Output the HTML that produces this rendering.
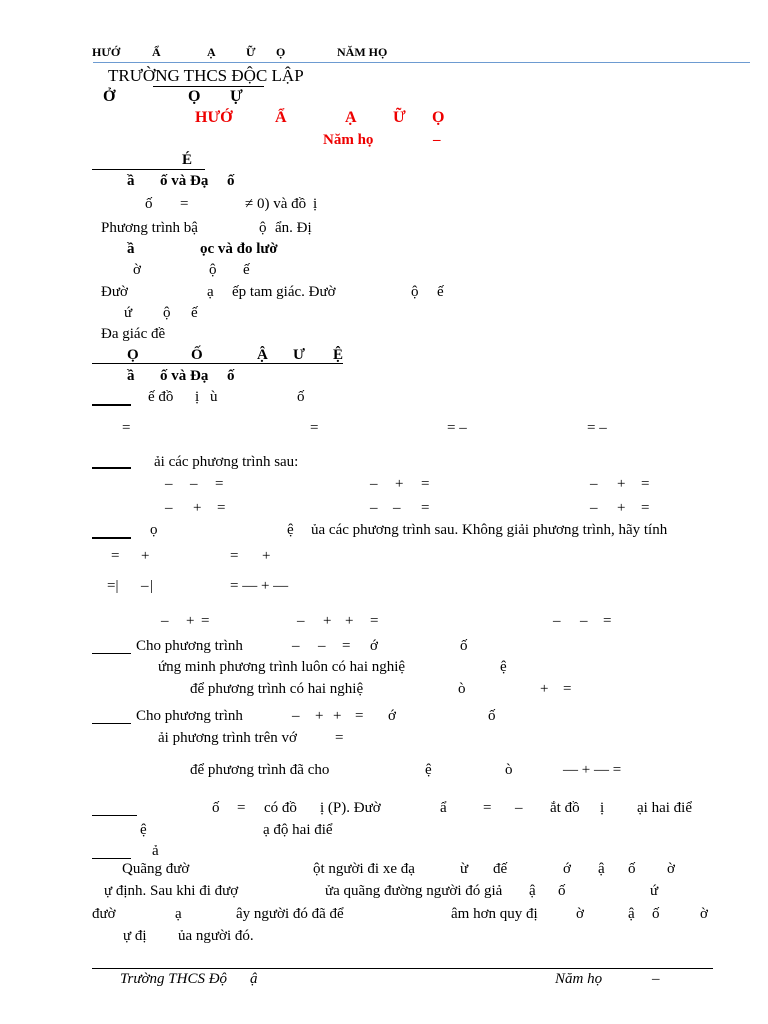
<!DOCTYPE html>
<html><head><meta charset="utf-8">
<style>
html,body{margin:0;padding:0;background:#fff}
body{width:768px;height:1024px;position:relative;overflow:hidden;font-family:"Liberation Serif","Noto Serif CJK SC",serif;font-size:15px;color:#000}
span{position:absolute;white-space:pre;line-height:18px}
.b{font-weight:bold}
.r{color:#e00;font-weight:bold}
.h{font-size:12px;font-weight:bold}
.i{font-style:italic}
.ln{position:absolute;height:1px;background:#000}
</style></head><body>
<span class="h" style="left:92px;top:43px">HƯỚ</span><span class="h" style="left:152px;top:43px">Ẩ</span><span class="h" style="left:207px;top:43px">Ạ</span><span class="h" style="left:246px;top:43px">Ữ</span><span class="h" style="left:276px;top:43px">Ọ</span><span class="h" style="left:337px;top:43px">NĂM HỌ</span>
<div class="ln" style="left:93px;top:62px;width:657px;background:#6d9bd1"></div>
<span style="left:108px;top:67px;font-size:17px">TRƯỜNG THCS ĐỘC LẬP</span>
<div class="ln" style="left:153px;top:86px;width:111px"></div>
<span class="b" style="left:103px;top:88px;font-size:16px">Ở</span><span class="b" style="left:188px;top:88px;font-size:16px">Ọ</span><span class="b" style="left:230px;top:88px;font-size:16px">Ự</span>
<span class="r" style="left:195px;top:109px;font-size:16px">HƯỚ</span><span class="r" style="left:275px;top:109px;font-size:16px">Ẩ</span><span class="r" style="left:345px;top:109px;font-size:16px">Ạ</span><span class="r" style="left:393px;top:109px;font-size:16px">Ữ</span><span class="r" style="left:432px;top:109px;font-size:16px">Ọ</span>
<span class="r" style="left:323px;top:131px">Năm họ</span><span class="r" style="left:433px;top:131px">–</span>
<span class="b" style="left:182px;top:151px">É</span>
<div class="ln" style="left:92px;top:169px;width:113px"></div>
<span class="b" style="left:127px;top:172px">ầ</span><span class="b" style="left:160px;top:172px">ố và Đạ</span><span class="b" style="left:227px;top:172px">ố</span>
<span style="left:145px;top:195px">ố</span><span style="left:180px;top:195px">=</span><span style="left:245px;top:195px">≠ 0) và đồ</span><span style="left:313px;top:195px">ị</span>
<span style="left:101px;top:219px">Phương trình bậ</span><span style="left:259px;top:219px">ộ</span><span style="left:275px;top:219px">ẩn. Đị</span>
<span class="b" style="left:127px;top:240px">ầ</span><span class="b" style="left:200px;top:240px">ọc và đo lườ</span>
<span style="left:133px;top:261px">ờ</span><span style="left:209px;top:261px">ộ</span><span style="left:243px;top:261px">ế</span>
<span style="left:101px;top:283px">Đườ</span><span style="left:207px;top:283px">ạ</span><span style="left:232px;top:283px">ếp tam giác. Đườ</span><span style="left:411px;top:283px">ộ</span><span style="left:437px;top:283px">ế</span>
<span style="left:124px;top:304px">ứ</span><span style="left:163px;top:304px">ộ</span><span style="left:191px;top:304px">ế</span>
<span style="left:101px;top:325px">Đa giác đề</span>
<span class="b" style="left:127px;top:346px">Ọ</span><span class="b" style="left:191px;top:346px">Ố</span><span class="b" style="left:257px;top:346px">Ậ</span><span class="b" style="left:293px;top:346px">Ư</span><span class="b" style="left:333px;top:346px">Ệ</span>
<div class="ln" style="left:92px;top:363px;width:251px"></div>
<span class="b" style="left:127px;top:367px">ầ</span><span class="b" style="left:160px;top:367px">ố và Đạ</span><span class="b" style="left:227px;top:367px">ố</span>
<div class="ln" style="left:92px;top:404px;width:39px;height:2px"></div>
<span style="left:148px;top:388px">ế đồ</span><span style="left:195px;top:388px">ị</span><span style="left:210px;top:388px">ù</span><span style="left:297px;top:388px">ố</span>
<span style="left:122px;top:419px">=</span><span style="left:310px;top:419px">=</span><span style="left:447px;top:419px">= –</span><span style="left:587px;top:419px">= –</span>
<div class="ln" style="left:92px;top:467px;width:39px;height:2px"></div>
<span style="left:154px;top:453px">ải các phương trình sau:</span>
<span style="left:165px;top:475px">–</span><span style="left:190px;top:475px">–</span><span style="left:215px;top:475px">=</span><span style="left:370px;top:475px">–</span><span style="left:395px;top:475px">+</span><span style="left:421px;top:475px">=</span><span style="left:590px;top:475px">–</span><span style="left:617px;top:475px">+</span><span style="left:641px;top:475px">=</span>
<span style="left:165px;top:499px">–</span><span style="left:193px;top:499px">+</span><span style="left:217px;top:499px">=</span><span style="left:370px;top:499px">–</span><span style="left:393px;top:499px">–</span><span style="left:421px;top:499px">=</span><span style="left:590px;top:499px">–</span><span style="left:617px;top:499px">+</span><span style="left:641px;top:499px">=</span>
<div class="ln" style="left:92px;top:537px;width:39px;height:2px"></div>
<span style="left:150px;top:521px">ọ</span><span style="left:287px;top:521px">ệ</span><span style="left:311px;top:521px">ủa các phương trình sau. Không giải phương trình, hãy tính</span>
<span style="left:111px;top:547px">=</span><span style="left:141px;top:547px">+</span><span style="left:230px;top:547px">=</span><span style="left:262px;top:547px">+</span>
<span style="left:107px;top:577px">=|</span><span style="left:141px;top:577px">–</span><span style="left:150px;top:577px">|</span><span style="left:230px;top:577px">= — + —</span>
<span style="left:161px;top:612px">–</span><span style="left:186px;top:612px">+</span><span style="left:201px;top:612px">=</span><span style="left:297px;top:612px">–</span><span style="left:323px;top:612px">+</span><span style="left:345px;top:612px">+</span><span style="left:370px;top:612px">=</span><span style="left:553px;top:612px">–</span><span style="left:580px;top:612px">–</span><span style="left:603px;top:612px">=</span>
<div class="ln" style="left:92px;top:653px;width:39px"></div>
<span style="left:136px;top:637px">Cho phương trình</span><span style="left:292px;top:637px">–</span><span style="left:318px;top:637px">–</span><span style="left:342px;top:637px">=</span><span style="left:370px;top:637px">ớ</span><span style="left:460px;top:637px">ố</span>
<span style="left:158px;top:658px">ứng minh phương trình luôn có hai nghiệ</span><span style="left:500px;top:658px">ệ</span>
<span style="left:190px;top:680px">để phương trình có hai nghiệ</span><span style="left:458px;top:680px">ò</span><span style="left:540px;top:680px">+</span><span style="left:563px;top:680px">=</span>
<div class="ln" style="left:92px;top:723px;width:39px"></div>
<span style="left:136px;top:707px">Cho phương trình</span><span style="left:292px;top:707px">–</span><span style="left:315px;top:707px">+</span><span style="left:333px;top:707px">+</span><span style="left:355px;top:707px">=</span><span style="left:388px;top:707px">ớ</span><span style="left:488px;top:707px">ố</span>
<span style="left:158px;top:729px">ải phương trình trên vớ</span><span style="left:335px;top:729px">=</span>
<span style="left:190px;top:761px">để phương trình đã cho</span><span style="left:425px;top:761px">ệ</span><span style="left:505px;top:761px">ò</span><span style="left:563px;top:761px">— + — =</span>
<div class="ln" style="left:92px;top:815px;width:45px"></div>
<span style="left:212px;top:799px">ố</span><span style="left:237px;top:799px">=</span><span style="left:264px;top:799px">có đồ</span><span style="left:320px;top:799px">ị (P). Đườ</span><span style="left:440px;top:799px">ẩ</span><span style="left:483px;top:799px">=</span><span style="left:515px;top:799px">–</span><span style="left:550px;top:799px">ắt đồ</span><span style="left:600px;top:799px">ị</span><span style="left:637px;top:799px">ại hai điể</span>
<span style="left:140px;top:821px">ệ</span><span style="left:263px;top:821px">ạ độ hai điể</span>
<div class="ln" style="left:92px;top:858px;width:39px"></div>
<span style="left:152px;top:842px">ả</span>
<span style="left:122px;top:860px">Quãng đườ</span><span style="left:313px;top:860px">ột người đi xe đạ</span><span style="left:460px;top:860px">ừ</span><span style="left:493px;top:860px">đế</span><span style="left:563px;top:860px">ớ</span><span style="left:598px;top:860px">ậ</span><span style="left:628px;top:860px">ố</span><span style="left:667px;top:860px">ờ</span>
<span style="left:104px;top:882px">ự định. Sau khi đi đượ</span><span style="left:325px;top:882px">ửa quãng đường người đó giả</span><span style="left:529px;top:882px">ậ</span><span style="left:558px;top:882px">ố</span><span style="left:650px;top:882px">ứ</span>
<span style="left:92px;top:905px">đườ</span><span style="left:175px;top:905px">ạ</span><span style="left:236px;top:905px">ây người đó đã để</span><span style="left:451px;top:905px">âm hơn quy đị</span><span style="left:576px;top:905px">ờ</span><span style="left:628px;top:905px">ậ</span><span style="left:652px;top:905px">ố</span><span style="left:700px;top:905px">ờ</span>
<span style="left:123px;top:927px">ự đị</span><span style="left:178px;top:927px">ủa người đó.</span>
<div class="ln" style="left:92px;top:968px;width:621px"></div>
<span class="i" style="left:120px;top:970px">Trường THCS Độ</span><span class="i" style="left:250px;top:970px">ậ</span><span class="i" style="left:555px;top:970px">Năm họ</span><span class="i" style="left:652px;top:970px">–</span>
</body></html>
